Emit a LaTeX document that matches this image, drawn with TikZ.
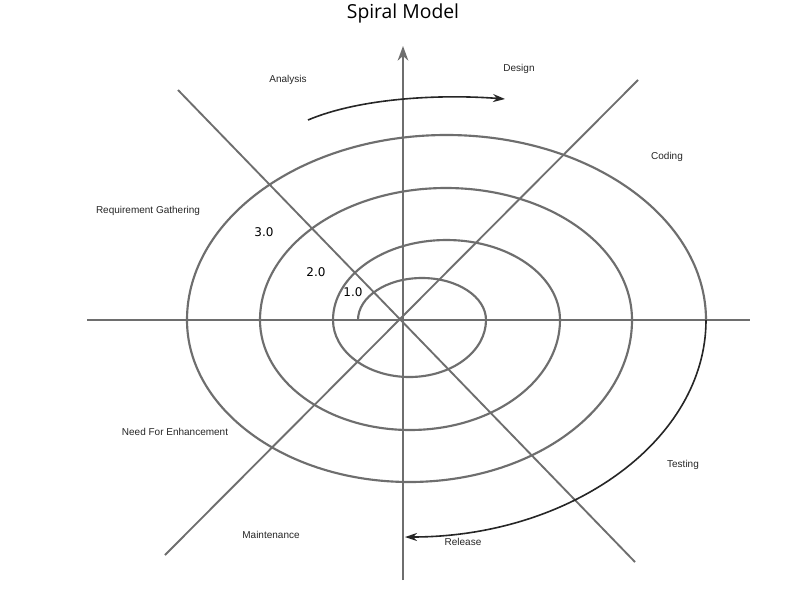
\documentclass[tikz,border=0pt]{standalone}
\usepackage{fontspec}
\setmainfont{Liberation Sans}
\newfontfamily\numf{DejaVu Sans}
\newfontfamily\titf{Open Sans}
\usetikzlibrary{arrows.meta}
\definecolor{ln}{RGB}{110,110,110}
\begin{document}
\begin{tikzpicture}[x=0.75pt,y=-0.75pt,
  ax/.style={draw=ln,line width=1.4pt},
  sp/.style={draw=ln,line width=1.6pt},
  lab/.style={font=\fontsize{7.5}{9}\selectfont, text=black!85},
  num/.style={font=\numf\fontsize{9}{11}\selectfont},
  arr/.style={-{Stealth[length=9pt,width=6pt]},draw=black!85,line width=1.2pt}]
\useasboundingbox[fill=white] (0,0) rectangle (788,596);
\node[font=\titf\fontsize{14.5}{16}\selectfont] (title) at (403,13) {Spiral Model};
% axes
\coordinate (O) at (403,320);
\coordinate (hl) at (87,320); \coordinate (hr) at (750,320);
\coordinate (vb) at (403,580); \coordinate (vt) at (403,46);
\coordinate (d1a) at (178,90); \coordinate (d1b) at (635,562);
\coordinate (d2a) at (638,80); \coordinate (d2b) at (165,555);
\draw[ax] (hl) -- (hr);
\draw[ax,-{Stealth[length=11pt,width=8pt]}] (vb) -- (vt);
\draw[ax] (d1a) -- (d1b);
\draw[ax] (d2a) -- (d2b);
% spiral
\coordinate (s0) at (358,320);
\draw[sp] (s0)
  arc[start angle=180,end angle=0,x radius=64,y radius=-42]
  arc[start angle=0,end angle=-180,x radius=76.5,y radius=-57]
  arc[start angle=180,end angle=0,x radius=113.5,y radius=-80]
  arc[start angle=0,end angle=-180,x radius=150,y radius=-110]
  arc[start angle=180,end angle=0,x radius=186,y radius=-132]
  arc[start angle=0,end angle=-180,x radius=222.5,y radius=-162]
  arc[start angle=180,end angle=0,x radius=259.5,y radius=-185];
\coordinate (s1) at (706,320);
\draw[arr] (s1) arc[start angle=0,end angle=-90,x radius=301,y radius=-217];
% top arrow
\coordinate (ta) at (308,120); \coordinate (tb) at (505,99);
\draw[arr] (ta) .. controls (360,98) and (440,94) .. (tb);
% labels
\node[lab] (an) at (288,80) {Analysis};
\node[lab] (de) at (519,69) {Design};
\node[lab] (co) at (667,157) {Coding};
\node[lab] (rg) at (148,211) {Requirement Gathering};
\node[lab] (ne) at (175,432) {Need For Enhancement};
\node[lab] (te) at (683,465) {Testing};
\node[lab] (ma) at (271,535) {Maintenance};
\node[lab] (re) at (463,542) {Release};
\node[num] (n3) at (264,232) {3.0};
\node[num] (n2) at (316,272) {2.0};
\node[num] (n1) at (353,292) {1.0};
\end{tikzpicture}
\end{document}
